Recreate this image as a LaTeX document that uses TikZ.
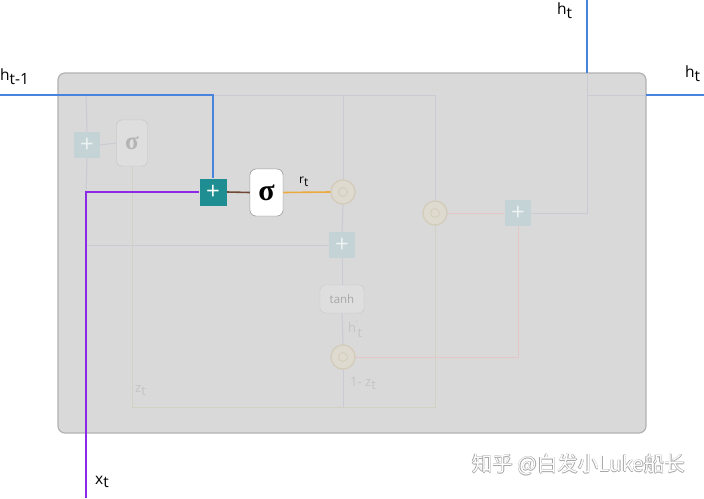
\documentclass[tikz,border=0pt]{standalone}
\usepackage{fontspec}
\setmainfont{Open Sans}
\newfontfamily\cjk{Noto Sans CJK SC}
\newfontfamily\sigfont{Liberation Serif}
\definecolor{boxgray}{RGB}{217,217,217}
\definecolor{boxedge}{RGB}{178,178,178}
\definecolor{hblue}{RGB}{72,132,222}
\definecolor{tealc}{RGB}{30,142,146}
\definecolor{purp}{RGB}{140,40,232}
\definecolor{brownc}{RGB}{112,72,52}
\definecolor{orangec}{RGB}{236,170,62}
\definecolor{fline}{RGB}{202,202,212}
\definecolor{fpink}{RGB}{228,198,200}
\definecolor{fbeige}{RGB}{210,209,196}
\definecolor{fplus}{RGB}{196,211,213}
\definecolor{fodot}{RGB}{222,218,208}
\definecolor{fring}{RGB}{212,204,186}
\definecolor{ftext}{RGB}{196,196,196}
\definecolor{wm}{RGB}{165,165,165}
\begin{document}
\begin{tikzpicture}[x=1pt,y=-1pt,
  fl/.style={draw=fline,line width=1pt},
  fp/.style={draw=fpink,line width=1pt},
  fb/.style={draw=fbeige,line width=1pt},
  fplusbox/.style={fill=fplus,minimum size=26pt,inner sep=0pt,text=white!70!fplus,font=\fontsize{24}{24}\selectfont},
  plusbox/.style={fill=tealc,minimum size=27pt,inner sep=0pt,text=white,font=\fontsize{24}{24}\selectfont},
  fodotc/.style={circle,fill=fodot,draw=fring,line width=1.2pt,minimum size=24pt,inner sep=0pt},
  fsig/.style={rounded corners=5pt,draw=boxgray!92!black,fill=boxgray!88!white,minimum width=31pt,minimum height=46pt,inner sep=0pt,text=ftext!92!black,font=\sigfont\bfseries\fontsize{25}{25}\selectfont},
  sigbox/.style={rounded corners=6pt,draw=black!45,fill=white,minimum width=33pt,minimum height=47pt,inner sep=0pt,font=\sigfont\bfseries\fontsize{30}{30}\selectfont},
  bold/.style={line width=1.6pt},
  lab/.style={font=\fontsize{15.5}{15.5}\selectfont,inner sep=0pt},
  flab/.style={font=\fontsize{13}{13}\selectfont,inner sep=0pt,text=ftext}
]
\useasboundingbox (0,0) rectangle (704,498);
\fill[white] (0,0) rectangle (704,498);
% main box
\draw[fill=boxgray,draw=boxedge,line width=1.2pt,rounded corners=7pt] (58,73) rectangle (646,433);

% node placements
\node[fplusbox] (p1) at (87,145) {+};
\node[fsig] (s1) at (132,143) {σ};
\node[fodotc] (o1) at (343,192) {};
\node[fplusbox] (p2) at (342,245) {+};
\node[rounded corners=5pt,draw=boxgray!92!black,fill=boxgray!88!white,minimum width=44pt,minimum height=28pt,inner sep=0pt,text=ftext!85!black,font=\fontsize{11.5}{11.5}\selectfont] (th) at (342,299) {tanh};
\node[fodotc] (o2) at (343,357) {};
\node[fodotc] (o3) at (435,213) {};
\node[fplusbox] (p3) at (518,213) {+};
\coordinate (tl) at (86,95);
\coordinate (tm) at (343,95);
\coordinate (tr) at (435,95);
\coordinate (bl) at (132,407);
\coordinate (bm) at (343,407);
\coordinate (br) at (435,407);
\coordinate (pl) at (86,245);
\coordinate (hr) at (587,213);
\coordinate (hj) at (587,95);
\coordinate (htop) at (587,0);
\coordinate (hboxtop) at (587,73);
\coordinate (hbe) at (646,95);
\coordinate (hre) at (704,95);
\coordinate (pk) at (518,357);

% faint lines
\draw[fl] (58,95) -- (tr) -- (o3.north);
\draw[fl] (tl) -- (p1.north);
\draw[fl] (p1.south) -- (86,192);
\draw[fl] (86,192) -- (pl) -- (p2.west);
\draw[fl] (p1.east) -- (s1.west);
\draw[fl] (tm) -- (o1.north);
\draw[fl] (o1.south) -- (p2.north);
\draw[fl] (p2.south) -- (th.north);
\draw[fl] (th.south) -- (o2.north);
\draw[fl] (o2.south) -- (bm);
\draw[fb] (s1.south) -- (bl) -- (br) -- (o3.south);
\draw[fp] (o2.east) -- (pk) -- (p3.south);
\draw[fp] (o3.east) -- (p3.west);
\draw[fl] (p3.east) -- (hr) -- (hboxtop);
\draw[fl] (hj) -- (hbe);
% redraw faint nodes on top of lines
\node[fplusbox] at (p1) {+};
\node[fsig] at (s1) {σ};
\foreach \o in {o1,o2,o3}{
  \node[fodotc] at (\o) {};
  \draw[fring,line width=0.8pt] (\o) circle (4.5pt);
}
\node[fplusbox] at (p2) {+};
\node[fplusbox] at (p3) {+};

% bold lines
\node[plusbox] (pa) at (213,192) {};
\node[sigbox] (sa) at (266.5,192.5) {σ};
\draw[hblue,bold] (0,95) -- (213,95) -- (pa.north);
\draw[hblue,bold] (htop) -- (hboxtop);
\draw[hblue,bold] (hbe) -- (hre);
\draw[purp,bold] (86,498) -- (86,192) -- (pa.west);
\draw[brownc,bold] (pa.east) -- (sa.west);
\draw[orangec,bold] (sa.east) -- (o1.west);
\node[plusbox] at (pa) {+};
\node[sigbox] at (sa) {σ};

% labels
\node[lab,anchor=west] (lhm) at (0,77) {h\raisebox{-0.45ex}{t-1}};
\node[lab,anchor=west] (lht) at (557,11) {h\raisebox{-0.45ex}{t}};
\node[lab,anchor=west] (lhr) at (685,74) {h\raisebox{-0.45ex}{t}};
\node[lab,anchor=west] (lx) at (95,482) {x\raisebox{-0.45ex}{t}};
\node[inner sep=0pt,font=\fontsize{12}{12}\selectfont,anchor=west] (lr) at (299,182) {r\raisebox{-0.45ex}{t}};
\node[flab,anchor=west] (lz) at (135,391) {z\raisebox{-0.45ex}{t}};
\node[flab,anchor=west] (lh) at (348,329) {h\raisebox{0.9ex}{\footnotesize'}\raisebox{-0.6ex}{t}};
\node[flab,anchor=west] (l1z) at (350,383) {1- z\raisebox{-0.45ex}{t}};

% watermark
\foreach \dx/\dy in {-0.6/0,0.6/0,0/-0.6,0/0.6}{
  \node[inner sep=0pt,anchor=west,text=wm,font=\cjk\fontsize{20.5}{20.5}\selectfont] at (472+\dx,465+\dy) {知乎 @白发小Luke船长};
}
\node[inner sep=0pt,anchor=west,text=white,font=\cjk\fontsize{20.5}{20.5}\selectfont] (wmk) at (472,465) {知乎 @白发小Luke船长};
\end{tikzpicture}
\end{document}
